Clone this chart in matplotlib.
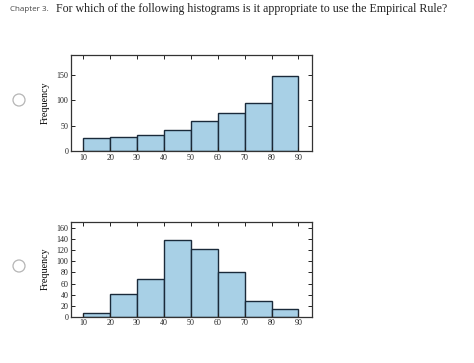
import matplotlib
matplotlib.use("Agg")
from matplotlib import pyplot as plt
from matplotlib.patches import Circle

# bin edges shared by both histograms
bin_left = [10, 20, 30, 40, 50, 60, 70, 80]
bin_width = 10
x_ticks = [10, 20, 30, 40, 50, 60, 70, 80, 90]

# top histogram (left skewed)
freq_top = [25, 27, 31, 42, 59, 74, 95, 148]
y_ticks_top = [0, 50, 100, 150]

# bottom histogram (roughly bell shaped)
freq_bottom = [6, 41, 68, 138, 123, 81, 28, 14]
y_ticks_bottom = [0, 20, 40, 60, 80, 100, 120, 140, 160]

bar_color = "#a8d0e6"
edge_color = "#1a2a3a"
serif = ["Liberation Serif", "DejaVu Serif"]

fig = plt.figure(figsize=(4.74, 3.63), dpi=100)
fig.patch.set_facecolor("white")

fig.text(0.021, 0.974, "Chapter 3.", fontsize=5.8, color="#444444",
         family="Open Sans", va="center")
fig.text(0.118, 0.974,
         "For which of the following histograms is it appropriate to use the Empirical Rule?",
         fontsize=8.6, family=serif, va="center", color="#222222")


def draw_hist(ax, freq, yticks, ytop):
    ax.bar(bin_left, freq, width=bin_width, align="edge", color=bar_color,
           edgecolor=edge_color, linewidth=1.0)
    ax.set_xlim(5.5, 95)
    ax.set_ylim(0, ytop)
    ax.set_xticks(x_ticks)
    ax.set_yticks(yticks)
    ax.tick_params(direction="in", top=True, right=True, length=3,
                   width=0.7, labelsize=5.8, pad=2, colors="#222222")
    for lab in ax.get_xticklabels() + ax.get_yticklabels():
        lab.set_family(serif)
    for sp in ax.spines.values():
        sp.set_linewidth(0.9)
        sp.set_color("#333333")
    ax.set_ylabel("Frequency", fontsize=7.2, family=serif, labelpad=5)


ax1 = fig.add_axes([0.150, 0.584, 0.508, 0.264])
draw_hist(ax1, freq_top, y_ticks_top, 189)

ax2 = fig.add_axes([0.150, 0.1275, 0.508, 0.262])
draw_hist(ax2, freq_bottom, y_ticks_bottom, 172)

# radio buttons next to each option (inches, so they stay round)
for cy in [100, 266]:
    fig.patches.append(Circle((19 / 100, (363 - cy) / 100), 6 / 100,
                              transform=fig.dpi_scale_trans, fill=False,
                              edgecolor="#b5b5b5", linewidth=0.9))

fig.savefig("out.png", dpi=100)
